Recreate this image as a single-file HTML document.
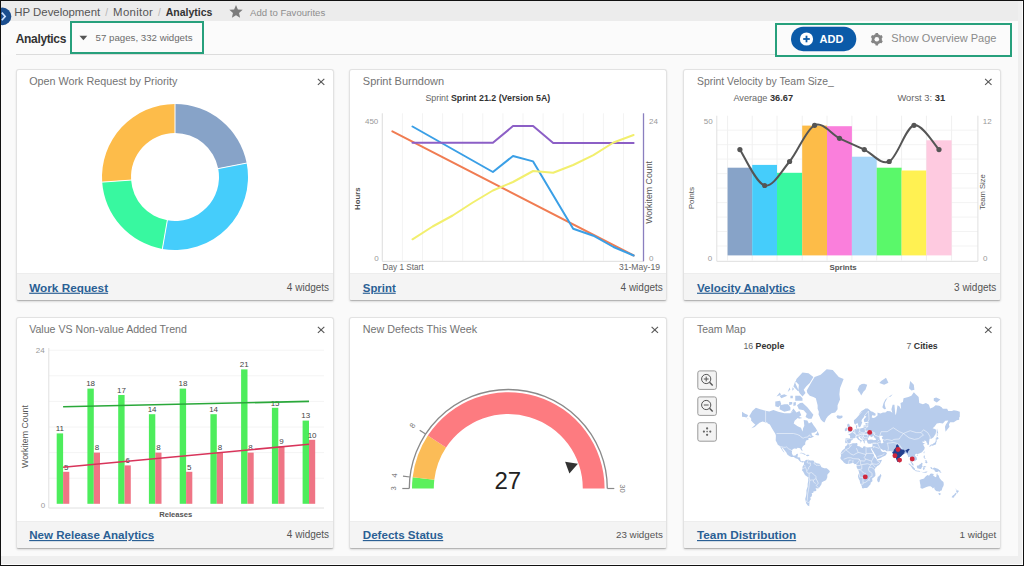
<!DOCTYPE html>
<html><head><meta charset="utf-8"><style>
*{box-sizing:border-box;margin:0;padding:0}
html,body{width:1024px;height:566px;overflow:hidden;background:#fafafa;font-family:"Liberation Sans", sans-serif}
.a{position:absolute}
.card{position:absolute;background:#fff;border-radius:3px;border:1px solid #e2e2e2;border-bottom-color:#b5b5b5;box-shadow:0 1px 2px rgba(0,0,0,.12);overflow:hidden}
.card .ft{position:absolute;left:0;right:0;bottom:0;height:27px;background:#f4f4f4;border-top:1px solid #ededed}
svg{position:absolute;left:0;top:0;font-family:"Liberation Sans", sans-serif}
</style></head><body>
<div class="a" style="left:0;top:0;width:1024px;height:21px;background:#ececec"></div>
<div class="a" style="left:0;top:21px;width:1024px;height:34px;background:#fbfbfb"></div>
<div class="a" style="left:16px;top:54px;width:760px;height:1px;background:#dcdcdc"></div>
<div class="a" style="left:1017.5px;top:0;width:5px;height:566px;background:#efefef"></div>
<div class="a" style="left:1022.2px;top:0;width:0.8px;height:566px;background:#fbfbfb"></div>
<div class="a" style="left:0;top:555.5px;width:1018px;height:8px;background:#efefef"></div>
<div class="a" style="left:0;top:563.5px;width:1024px;height:1.2px;background:#fdfdfd"></div>
<div class="card" style="left:16px;top:68.5px;width:317.8px;height:232.7px"><div class="ft"></div></div><div class="card" style="left:349.3px;top:68.5px;width:318.2px;height:232.7px"><div class="ft"></div></div><div class="card" style="left:683.1px;top:68.5px;width:317.9px;height:232.7px"><div class="ft"></div></div><div class="card" style="left:16px;top:316.5px;width:317.8px;height:232px"><div class="ft"></div></div><div class="card" style="left:349.3px;top:316.5px;width:318.2px;height:232px"><div class="ft"></div></div><div class="card" style="left:683.1px;top:316.5px;width:317.9px;height:232px"><div class="ft"></div></div>
<div class="a" style="left:70px;top:21px;width:134px;height:33px;border:2px solid #27a07c"></div>
<div class="a" style="left:775px;top:23px;width:237px;height:33.5px;border:2px solid #27a07c"></div>
<svg width="1024" height="566" viewBox="0 0 1024 566">
<circle cx="2.5" cy="16.4" r="8.8" fill="#1b4e8e"/>
<path d="M1.8,12.6 L5.2,16.4 L1.8,20.2" fill="none" stroke="#cfe3ff" stroke-width="1.6"/>
<text x="14.3" y="16.1" font-size="11.4" fill="#555" font-weight="400" text-anchor="start" >HP Development</text>
<text x="105.2" y="16.1" font-size="10" fill="#b5b5b5" font-weight="400" text-anchor="start" >/</text>
<text x="113.1" y="16.1" font-size="11.4" fill="#555" font-weight="400" text-anchor="start" letter-spacing="0.3">Monitor</text>
<text x="158.0" y="16.1" font-size="10" fill="#b5b5b5" font-weight="400" text-anchor="start" >/</text>
<text x="165.7" y="16.1" font-size="10.5" fill="#333" font-weight="700" text-anchor="start" >Analytics</text>
<path d="M236.00,5.00 L237.88,9.41 L242.66,9.84 L239.04,12.99 L240.11,17.66 L236.00,15.20 L231.89,17.66 L232.96,12.99 L229.34,9.84 L234.12,9.41Z" fill="#7c7c7c" stroke="none" stroke-width="1" stroke="#7c7c7c" stroke-width="0.6" stroke-linejoin="round"/>
<text x="250.0" y="15.6" font-size="9.6" fill="#8e8e8e" font-weight="400" text-anchor="start" >Add to Favourites</text>
<text x="15.8" y="42.8" font-size="12" fill="#333" font-weight="700" text-anchor="start" letter-spacing="-0.35">Analytics</text>
<path d="M79.5,35.8 L87.3,35.8 L83.4,40.2 Z" fill="#555" stroke="none" stroke-width="1" />
<text x="95.6" y="40.8" font-size="9.7" fill="#6c6c6c" font-weight="400" text-anchor="start" >57 pages, 332 widgets</text>
<rect x="791" y="26.7" width="65.3" height="24.5" rx="12.25" fill="#0b5aa8"/>
<circle cx="806.5" cy="39" r="6.6" fill="#fff"/>
<line x1="803.2" y1="39.0" x2="809.8" y2="39.0" stroke="#0b5aa8" stroke-width="1.8" />
<line x1="806.5" y1="35.7" x2="806.5" y2="42.3" stroke="#0b5aa8" stroke-width="1.8" />
<text x="819.5" y="42.8" font-size="11" fill="#fff" font-weight="700" text-anchor="start" >ADD</text>
<path d="M874.25,34.78 L875.31,34.32 L875.60,33.02 L878.00,33.02 L878.29,34.32 L879.35,34.78 L880.28,35.47 L881.55,35.07 L882.76,37.15 L881.77,38.05 L881.90,39.20 L881.77,40.35 L882.76,41.25 L881.55,43.33 L880.28,42.93 L879.35,43.62 L878.29,44.08 L878.00,45.38 L875.60,45.38 L875.31,44.08 L874.25,43.62 L873.32,42.93 L872.05,43.33 L870.84,41.25 L871.83,40.35 L871.70,39.20 L871.83,38.05 L870.84,37.15 L872.05,35.07 L873.32,35.47Z" fill="#858585" stroke="none" stroke-width="1" stroke="#858585" stroke-width="0.6" stroke-linejoin="round"/>
<circle cx="876.8" cy="39.2" r="2.3" fill="#fbfbfb"/>
<text x="891.3" y="41.8" font-size="11" fill="#8a8a8a" font-weight="400" text-anchor="start" >Show Overview Page</text>
<text x="29.2" y="85.0" font-size="10.78" fill="#737373" font-weight="400" text-anchor="start" >Open Work Request by Priority</text>
<line x1="317.9" y1="78.8" x2="324.3" y2="84.8" stroke="#555" stroke-width="1.1" />
<line x1="317.9" y1="84.8" x2="324.3" y2="78.8" stroke="#555" stroke-width="1.1" />
<text x="29.2" y="291.7" font-size="11.77" fill="#2a5f94" font-weight="700" text-anchor="start" text-decoration="underline">Work Request</text>
<text x="329.1" y="290.8" font-size="10" fill="#555" font-weight="400" text-anchor="end" >4 widgets</text>
<text x="362.8" y="85.0" font-size="11.0" fill="#737373" font-weight="400" text-anchor="start" >Sprint Burndown</text>
<text x="362.8" y="291.7" font-size="11.4" fill="#2a5f94" font-weight="700" text-anchor="start" text-decoration="underline">Sprint</text>
<text x="662.8" y="290.8" font-size="10" fill="#555" font-weight="400" text-anchor="end" >4 widgets</text>
<text x="697.0" y="85.0" font-size="10.4" fill="#737373" font-weight="400" text-anchor="start" >Sprint Velocity by Team Size_</text>
<line x1="985.1" y1="78.8" x2="991.5" y2="84.8" stroke="#555" stroke-width="1.1" />
<line x1="985.1" y1="84.8" x2="991.5" y2="78.8" stroke="#555" stroke-width="1.1" />
<text x="697.0" y="291.7" font-size="11.6" fill="#2a5f94" font-weight="700" text-anchor="start" text-decoration="underline">Velocity Analytics</text>
<text x="996.3" y="290.8" font-size="10" fill="#555" font-weight="400" text-anchor="end" >3 widgets</text>
<text x="29.2" y="333.0" font-size="10.6" fill="#737373" font-weight="400" text-anchor="start" >Value VS Non-value Added Trend</text>
<line x1="317.9" y1="326.8" x2="324.3" y2="332.8" stroke="#555" stroke-width="1.1" />
<line x1="317.9" y1="332.8" x2="324.3" y2="326.8" stroke="#555" stroke-width="1.1" />
<text x="29.2" y="539.0" font-size="11.57" fill="#2a5f94" font-weight="700" text-anchor="start" text-decoration="underline">New Release Analytics</text>
<text x="329.1" y="538.1" font-size="10" fill="#555" font-weight="400" text-anchor="end" >4 widgets</text>
<text x="362.8" y="333.0" font-size="10.75" fill="#737373" font-weight="400" text-anchor="start" >New Defects This Week</text>
<line x1="651.6" y1="326.8" x2="658.0" y2="332.8" stroke="#555" stroke-width="1.1" />
<line x1="651.6" y1="332.8" x2="658.0" y2="326.8" stroke="#555" stroke-width="1.1" />
<text x="362.8" y="539.0" font-size="11.58" fill="#2a5f94" font-weight="700" text-anchor="start" text-decoration="underline">Defects Status</text>
<text x="662.8" y="538.1" font-size="9.8" fill="#555" font-weight="400" text-anchor="end" >23 widgets</text>
<text x="697.0" y="333.0" font-size="10.45" fill="#737373" font-weight="400" text-anchor="start" >Team Map</text>
<line x1="985.1" y1="326.8" x2="991.5" y2="332.8" stroke="#555" stroke-width="1.1" />
<line x1="985.1" y1="332.8" x2="991.5" y2="326.8" stroke="#555" stroke-width="1.1" />
<text x="697.0" y="539.0" font-size="11.77" fill="#2a5f94" font-weight="700" text-anchor="start" text-decoration="underline">Team Distribution</text>
<text x="996.3" y="538.1" font-size="9.9" fill="#555" font-weight="400" text-anchor="end" >1 widget</text>
<path d="M175.00,104.00 A73,73 0 0 1 246.66,163.07 L218.19,168.60 A44,44 0 0 0 175.00,133.00 Z" fill="#87a3c8" stroke="none" stroke-width="1" />
<path d="M246.66,163.07 A73,73 0 0 1 162.32,248.89 L167.36,220.33 A44,44 0 0 0 218.19,168.60 Z" fill="#45cdfb" stroke="none" stroke-width="1" />
<path d="M162.32,248.89 A73,73 0 0 1 102.18,182.09 L131.11,180.07 A44,44 0 0 0 167.36,220.33 Z" fill="#38f8a0" stroke="none" stroke-width="1" />
<path d="M102.18,182.09 A73,73 0 0 1 175.00,104.00 L175.00,133.00 A44,44 0 0 0 131.11,180.07 Z" fill="#fdbc4a" stroke="none" stroke-width="1" />
<line x1="175.0" y1="134.0" x2="175.0" y2="103.0" stroke="#fff" stroke-width="1" />
<line x1="217.2" y1="168.8" x2="247.6" y2="162.9" stroke="#fff" stroke-width="1" />
<line x1="167.5" y1="219.3" x2="162.2" y2="249.9" stroke="#fff" stroke-width="1" />
<line x1="132.1" y1="180.0" x2="101.2" y2="182.2" stroke="#fff" stroke-width="1" />
<line x1="382.3" y1="113.3" x2="382.3" y2="260.7" stroke="#f3f3f3" stroke-width="1" />
<line x1="402.4" y1="113.3" x2="402.4" y2="260.7" stroke="#f3f3f3" stroke-width="1" />
<line x1="422.5" y1="113.3" x2="422.5" y2="260.7" stroke="#f3f3f3" stroke-width="1" />
<line x1="442.6" y1="113.3" x2="442.6" y2="260.7" stroke="#f3f3f3" stroke-width="1" />
<line x1="462.7" y1="113.3" x2="462.7" y2="260.7" stroke="#f3f3f3" stroke-width="1" />
<line x1="482.8" y1="113.3" x2="482.8" y2="260.7" stroke="#f3f3f3" stroke-width="1" />
<line x1="502.9" y1="113.3" x2="502.9" y2="260.7" stroke="#f3f3f3" stroke-width="1" />
<line x1="523.0" y1="113.3" x2="523.0" y2="260.7" stroke="#f3f3f3" stroke-width="1" />
<line x1="543.1" y1="113.3" x2="543.1" y2="260.7" stroke="#f3f3f3" stroke-width="1" />
<line x1="563.2" y1="113.3" x2="563.2" y2="260.7" stroke="#f3f3f3" stroke-width="1" />
<line x1="583.3" y1="113.3" x2="583.3" y2="260.7" stroke="#f3f3f3" stroke-width="1" />
<line x1="603.4" y1="113.3" x2="603.4" y2="260.7" stroke="#f3f3f3" stroke-width="1" />
<line x1="623.5" y1="113.3" x2="623.5" y2="260.7" stroke="#f3f3f3" stroke-width="1" />
<line x1="643.6" y1="113.3" x2="643.6" y2="260.7" stroke="#f3f3f3" stroke-width="1" />
<line x1="382.3" y1="113.3" x2="382.3" y2="261.3" stroke="#e0e0e0" stroke-width="1" />
<line x1="382.3" y1="261.3" x2="643.6" y2="261.3" stroke="#dedede" stroke-width="1" />
<line x1="643.5" y1="113.3" x2="643.5" y2="261.3" stroke="#8a7fbf" stroke-width="1.3" />
<text x="378.3" y="124.0" font-size="8" fill="#999" font-weight="400" text-anchor="end" >450</text>
<text x="378.8" y="261.3" font-size="8" fill="#999" font-weight="400" text-anchor="end" >0</text>
<text x="649.0" y="124.0" font-size="8" fill="#999" font-weight="400" text-anchor="start" >24</text>
<text x="649.0" y="261.3" font-size="8" fill="#999" font-weight="400" text-anchor="start" >0</text>
<text x="382.6" y="269.6" font-size="8.2" fill="#666" font-weight="400" text-anchor="start" >Day 1 Start</text>
<text x="660.0" y="269.6" font-size="8.6" fill="#666" font-weight="400" text-anchor="end" >31-May-19</text>
<text transform="translate(360.3,198.7) rotate(-90)" font-size="7.8" font-weight="700" fill="#555" text-anchor="middle">Hours</text>
<text transform="translate(651.8,192.4) rotate(-90)" font-size="8.8" fill="#555" text-anchor="middle">Workitem Count</text>
<text x="425.4" y="100.7" font-size="8.85" fill="#666" font-weight="400" text-anchor="start" >Sprint <tspan font-weight="700" fill="#333">Sprint 21.2 (Version 5A)</tspan></text>
<path d="M392.4,131.3 L633.6,255.5" fill="none" stroke="#f07c52" stroke-width="2" stroke-linejoin="round" stroke-linecap="round"/>
<path d="M412.5,126.5 L492.9,172.0 L513.0,156.0 L533.1,161.4 L573.2,228.7 L593.4,235.7 L613.5,247.0 L633.6,255.5" fill="none" stroke="#3a9fe6" stroke-width="2" stroke-linejoin="round" stroke-linecap="round"/>
<path d="M412.5,142.8 L492.9,142.8 L513.0,126.1 L533.1,126.1 L553.2,143.0 L633.6,143.0" fill="none" stroke="#8c5fc6" stroke-width="2" stroke-linejoin="round" stroke-linecap="round"/>
<path d="M412.5,239.3 L432.6,226.5 L452.7,215.5 L472.8,202.5 L492.9,190.5 L513.0,182.0 L533.1,171.0 L553.2,172.7 L573.2,165.0 L593.4,155.2 L613.5,142.5 L633.6,135.0" fill="none" stroke="#f2ef6e" stroke-width="2" stroke-linejoin="round" stroke-linecap="round"/>
<line x1="716.8" y1="246.0" x2="977.9" y2="246.0" stroke="#f3f3f3" stroke-width="1" />
<line x1="716.8" y1="231.5" x2="977.9" y2="231.5" stroke="#f3f3f3" stroke-width="1" />
<line x1="716.8" y1="217.1" x2="977.9" y2="217.1" stroke="#f3f3f3" stroke-width="1" />
<line x1="716.8" y1="202.6" x2="977.9" y2="202.6" stroke="#f3f3f3" stroke-width="1" />
<line x1="716.8" y1="188.1" x2="977.9" y2="188.1" stroke="#f3f3f3" stroke-width="1" />
<line x1="716.8" y1="173.6" x2="977.9" y2="173.6" stroke="#f3f3f3" stroke-width="1" />
<line x1="716.8" y1="159.1" x2="977.9" y2="159.1" stroke="#f3f3f3" stroke-width="1" />
<line x1="716.8" y1="144.7" x2="977.9" y2="144.7" stroke="#f3f3f3" stroke-width="1" />
<line x1="716.8" y1="130.2" x2="977.9" y2="130.2" stroke="#f3f3f3" stroke-width="1" />
<line x1="727.6" y1="115.7" x2="727.6" y2="260.5" stroke="#f0f0f0" stroke-width="1" />
<line x1="752.2" y1="115.7" x2="752.2" y2="260.5" stroke="#f0f0f0" stroke-width="1" />
<line x1="777.0" y1="115.7" x2="777.0" y2="260.5" stroke="#f0f0f0" stroke-width="1" />
<line x1="802.2" y1="115.7" x2="802.2" y2="260.5" stroke="#f0f0f0" stroke-width="1" />
<line x1="827.0" y1="115.7" x2="827.0" y2="260.5" stroke="#f0f0f0" stroke-width="1" />
<line x1="851.9" y1="115.7" x2="851.9" y2="260.5" stroke="#f0f0f0" stroke-width="1" />
<line x1="876.7" y1="115.7" x2="876.7" y2="260.5" stroke="#f0f0f0" stroke-width="1" />
<line x1="901.6" y1="115.7" x2="901.6" y2="260.5" stroke="#f0f0f0" stroke-width="1" />
<line x1="926.4" y1="115.7" x2="926.4" y2="260.5" stroke="#f0f0f0" stroke-width="1" />
<line x1="951.6" y1="115.7" x2="951.6" y2="260.5" stroke="#f0f0f0" stroke-width="1" />
<line x1="716.8" y1="115.7" x2="716.8" y2="261.3" stroke="#e0e0e0" stroke-width="1" />
<line x1="716.8" y1="261.3" x2="977.9" y2="261.3" stroke="#dedede" stroke-width="1" />
<line x1="977.9" y1="115.7" x2="977.9" y2="261.3" stroke="#e0e0e0" stroke-width="1" />
<rect x="727.6" y="167.7" width="24.6" height="87.7" fill="#87a3c8" />
<rect x="752.2" y="164.9" width="24.8" height="90.5" fill="#45cdfb" />
<rect x="777.0" y="172.8" width="25.2" height="82.6" fill="#38f8a0" />
<rect x="802.2" y="125.6" width="24.8" height="129.8" fill="#fdbc48" />
<rect x="827.0" y="126.2" width="24.9" height="129.2" fill="#fa7fdc" />
<rect x="851.9" y="156.7" width="24.8" height="98.7" fill="#a8d6f8" />
<rect x="876.7" y="167.7" width="24.9" height="87.7" fill="#5af86a" />
<rect x="901.6" y="170.5" width="24.8" height="84.9" fill="#fff152" />
<rect x="926.4" y="140.3" width="25.2" height="115.1" fill="#fecae0" />
<path d="M739.90,149.60 C744.02,155.58 756.32,183.52 764.60,185.50 C772.88,187.48 781.27,171.53 789.60,161.50 C797.93,151.47 806.29,129.17 814.60,125.30 C822.91,121.43 831.17,134.25 839.45,138.30 C847.73,142.35 856.02,145.73 864.30,149.60 C872.58,153.47 880.87,165.55 889.15,161.50 C897.43,157.45 905.69,127.28 914.00,125.30 C922.31,123.32 934.83,145.55 939.00,149.60" fill="none" stroke="#555" stroke-width="2" />
<circle cx="739.9" cy="149.6" r="2.6" fill="#555"/>
<circle cx="764.6" cy="185.5" r="2.6" fill="#555"/>
<circle cx="789.6" cy="161.5" r="2.6" fill="#555"/>
<circle cx="814.6" cy="125.3" r="2.6" fill="#555"/>
<circle cx="839.5" cy="138.3" r="2.6" fill="#555"/>
<circle cx="864.3" cy="149.6" r="2.6" fill="#555"/>
<circle cx="889.2" cy="161.5" r="2.6" fill="#555"/>
<circle cx="914.0" cy="125.3" r="2.6" fill="#555"/>
<circle cx="939.0" cy="149.6" r="2.6" fill="#555"/>
<text x="712.6" y="124.0" font-size="8" fill="#999" font-weight="400" text-anchor="end" >50</text>
<text x="712.2" y="261.0" font-size="8" fill="#999" font-weight="400" text-anchor="end" >0</text>
<text x="982.7" y="124.0" font-size="8" fill="#999" font-weight="400" text-anchor="start" >12</text>
<text x="983.0" y="261.0" font-size="8" fill="#999" font-weight="400" text-anchor="start" >0</text>
<text transform="translate(694.3,198.2) rotate(-90)" font-size="8" fill="#555" text-anchor="middle">Points</text>
<text transform="translate(984.8,192) rotate(-90)" font-size="7.6" fill="#555" text-anchor="middle">Team Size</text>
<text x="843.1" y="269.7" font-size="7.9" fill="#555" font-weight="700" text-anchor="middle" >Sprints</text>
<text x="733.4" y="100.9" font-size="9.2" fill="#666" font-weight="400" text-anchor="start" >Average <tspan font-weight="700" fill="#333">36.67</tspan></text>
<text x="897.4" y="100.9" font-size="9.4" fill="#666" font-weight="400" text-anchor="start" >Worst 3: <tspan font-weight="700" fill="#333">31</tspan></text>
<line x1="48.8" y1="478.2" x2="324.0" y2="478.2" stroke="#f4f4f4" stroke-width="1" />
<line x1="48.8" y1="452.6" x2="324.0" y2="452.6" stroke="#f4f4f4" stroke-width="1" />
<line x1="48.8" y1="427.0" x2="324.0" y2="427.0" stroke="#f4f4f4" stroke-width="1" />
<line x1="48.8" y1="401.4" x2="324.0" y2="401.4" stroke="#f4f4f4" stroke-width="1" />
<line x1="48.8" y1="375.8" x2="324.0" y2="375.8" stroke="#f4f4f4" stroke-width="1" />
<line x1="48.8" y1="350.2" x2="324.0" y2="350.2" stroke="#f4f4f4" stroke-width="1" />
<line x1="48.8" y1="348.0" x2="48.8" y2="508.0" stroke="#e0e0e0" stroke-width="1" />
<line x1="48.8" y1="508.0" x2="324.0" y2="508.0" stroke="#e0e0e0" stroke-width="1" />
<rect x="56.7" y="433.4" width="6.4" height="70.4" fill="#4ded5c" />
<rect x="63.1" y="471.8" width="6.2" height="32.0" fill="#ef7585" />
<text x="59.9" y="431.2" font-size="8" fill="#444" font-weight="400" text-anchor="middle" >11</text>
<text x="66.2" y="469.6" font-size="8" fill="#444" font-weight="400" text-anchor="middle" >5</text>
<rect x="87.4" y="388.6" width="6.4" height="115.2" fill="#4ded5c" />
<rect x="93.8" y="452.6" width="6.2" height="51.2" fill="#ef7585" />
<text x="90.6" y="386.4" font-size="8" fill="#444" font-weight="400" text-anchor="middle" >18</text>
<text x="96.9" y="450.4" font-size="8" fill="#444" font-weight="400" text-anchor="middle" >8</text>
<rect x="118.2" y="395.0" width="6.4" height="108.8" fill="#4ded5c" />
<rect x="124.6" y="465.4" width="6.2" height="38.4" fill="#ef7585" />
<text x="121.4" y="392.8" font-size="8" fill="#444" font-weight="400" text-anchor="middle" >17</text>
<text x="127.7" y="463.2" font-size="8" fill="#444" font-weight="400" text-anchor="middle" >6</text>
<rect x="148.9" y="414.2" width="6.4" height="89.6" fill="#4ded5c" />
<rect x="155.3" y="452.6" width="6.2" height="51.2" fill="#ef7585" />
<text x="152.1" y="412.0" font-size="8" fill="#444" font-weight="400" text-anchor="middle" >14</text>
<text x="158.4" y="450.4" font-size="8" fill="#444" font-weight="400" text-anchor="middle" >8</text>
<rect x="179.7" y="388.6" width="6.4" height="115.2" fill="#4ded5c" />
<rect x="186.1" y="471.8" width="6.2" height="32.0" fill="#ef7585" />
<text x="182.9" y="386.4" font-size="8" fill="#444" font-weight="400" text-anchor="middle" >18</text>
<text x="189.2" y="469.6" font-size="8" fill="#444" font-weight="400" text-anchor="middle" >5</text>
<rect x="210.4" y="414.2" width="6.4" height="89.6" fill="#4ded5c" />
<rect x="216.8" y="452.6" width="6.2" height="51.2" fill="#ef7585" />
<text x="213.6" y="412.0" font-size="8" fill="#444" font-weight="400" text-anchor="middle" >14</text>
<text x="219.9" y="450.4" font-size="8" fill="#444" font-weight="400" text-anchor="middle" >8</text>
<rect x="241.1" y="369.4" width="6.4" height="134.4" fill="#4ded5c" />
<rect x="247.5" y="452.6" width="6.2" height="51.2" fill="#ef7585" />
<text x="244.3" y="367.2" font-size="8" fill="#444" font-weight="400" text-anchor="middle" >21</text>
<text x="250.6" y="450.4" font-size="8" fill="#444" font-weight="400" text-anchor="middle" >8</text>
<rect x="271.9" y="407.8" width="6.4" height="96.0" fill="#4ded5c" />
<rect x="278.3" y="446.2" width="6.2" height="57.6" fill="#ef7585" />
<text x="275.1" y="405.6" font-size="8" fill="#444" font-weight="400" text-anchor="middle" >15</text>
<text x="281.4" y="444.0" font-size="8" fill="#444" font-weight="400" text-anchor="middle" >9</text>
<rect x="302.6" y="420.6" width="6.4" height="83.2" fill="#4ded5c" />
<rect x="309.0" y="439.8" width="6.2" height="64.0" fill="#ef7585" />
<text x="305.8" y="418.4" font-size="8" fill="#444" font-weight="400" text-anchor="middle" >13</text>
<text x="312.1" y="437.6" font-size="8" fill="#444" font-weight="400" text-anchor="middle" >10</text>
<line x1="63.1" y1="406.8" x2="309.0" y2="401.4" stroke="#2aa83a" stroke-width="1.6" />
<line x1="63.1" y1="467.2" x2="309.0" y2="444.3" stroke="#d8345a" stroke-width="1.6" />
<text x="44.6" y="353.3" font-size="8" fill="#999" font-weight="400" text-anchor="end" >24</text>
<text x="45.3" y="508.2" font-size="8" fill="#999" font-weight="400" text-anchor="end" >0</text>
<text transform="translate(27.6,436.5) rotate(-90)" font-size="8.8" fill="#555" text-anchor="middle">Workitem Count</text>
<text x="175.7" y="516.7" font-size="7.6" fill="#555" font-weight="700" text-anchor="middle" >Releases</text>
<path d="M412.00,488.50 A96.3,96.3 0 0 1 412.65,477.32 L434.30,479.85 A74.5,74.5 0 0 0 433.80,488.50 Z" fill="#5cf05c" stroke="none" stroke-width="1" />
<path d="M412.65,477.32 A96.3,96.3 0 0 1 427.84,435.58 L446.06,447.56 A74.5,74.5 0 0 0 434.30,479.85 Z" fill="#fbbc57" stroke="none" stroke-width="1" />
<path d="M427.84,435.58 A96.3,96.3 0 0 1 604.60,488.50 L582.80,488.50 A74.5,74.5 0 0 0 446.06,447.56 Z" fill="#fd7b80" stroke="none" stroke-width="1" />
<path d="M409.3,488.5 A99,99 0 0 1 607.3,488.5" fill="none" stroke="#8a8a8a" stroke-width="1.3" />
<line x1="409.3" y1="488.5" x2="402.3" y2="488.5" stroke="#8a8a8a" stroke-width="1.2" />
<text transform="translate(394.3,488.5) rotate(-90.0)" font-size="7.6" fill="#777" text-anchor="middle" dominant-baseline="middle">3</text>
<line x1="410.0" y1="477.0" x2="403.0" y2="476.2" stroke="#8a8a8a" stroke-width="1.2" />
<text transform="translate(395.1,475.3) rotate(-83.3)" font-size="7.6" fill="#777" text-anchor="middle" dominant-baseline="middle">4</text>
<line x1="425.6" y1="434.1" x2="419.7" y2="430.3" stroke="#8a8a8a" stroke-width="1.2" />
<text transform="translate(413.1,425.9) rotate(-56.7)" font-size="7.6" fill="#777" text-anchor="middle" dominant-baseline="middle">8</text>
<line x1="607.3" y1="488.5" x2="614.3" y2="488.5" stroke="#8a8a8a" stroke-width="1.2" />
<text transform="translate(622.3,488.5) rotate(90.0)" font-size="7.6" fill="#777" text-anchor="middle" dominant-baseline="middle">30</text>
<path d="M565.1,461.7 L577.9,463.8 L569.4,473.4 Z" fill="#333" stroke="none" stroke-width="1" />
<text x="507.8" y="489.3" font-size="24" fill="#222" font-weight="400" text-anchor="middle" >27</text>
<path d="M749.26,416.24 L752.28,411.07 L755.91,407.78 L760.15,409.37 L765.60,410.78 L769.23,411.51 L773.46,409.95 L778.30,411.79 L784.35,413.18 L790.40,413.18 L793.42,408.38 L796.45,412.49 L799.48,411.07 L801.29,415.14 L798.26,417.54 L794.63,420.77 L793.73,423.41 L797.66,426.17 L800.99,427.74 L802.50,431.38 L803.11,428.25 L804.31,425.64 L803.71,419.95 L807.34,420.47 L808.85,423.41 L811.57,421.96 L813.39,425.09 L815.81,428.25 L817.20,430.72 L814.60,432.41 L810.67,433.05 L811.88,433.59 L811.70,435.26 L814.00,436.54 L810.97,437.94 L808.43,438.02 L808.55,439.63 L806.13,440.57 L805.22,442.84 L805.22,444.52 L803.11,445.88 L801.71,448.16 L802.50,450.50 L802.20,451.35 L800.99,449.84 L800.08,448.16 L797.66,447.82 L796.75,448.70 L794.03,448.43 L792.22,449.64 L791.79,453.09 L792.70,455.17 L793.73,455.79 L795.85,455.30 L796.45,453.92 L797.96,453.73 L797.48,457.15 L800.08,457.46 L800.38,460.18 L801.59,461.50 L802.80,461.02 L804.01,461.62 L803.59,462.27 L802.50,462.39 L800.38,461.67 L799.05,460.48 L797.96,458.98 L795.54,458.37 L793.73,457.03 L791.31,456.97 L789.19,455.98 L787.07,454.36 L786.53,452.64 L784.77,450.50 L783.02,448.30 L781.45,446.99 L782.41,449.31 L784.05,451.81 L784.47,452.77 L783.14,451.61 L781.93,449.84 L780.30,446.93 L779.21,445.38 L777.94,445.03 L776.79,442.62 L775.70,440.57 L775.88,435.86 L775.46,434.03 L773.76,431.19 L772.07,428.46 L769.83,424.54 L766.50,422.72 L762.57,421.47 L759.54,422.84 L757.43,424.54 L754.70,426.91 L751.38,428.25 L755.31,424.76 L752.89,422.49 L750.89,420.26 L751.38,418.99 L750.17,417.31Z M806.74,390.49 L810.97,383.01 L814.60,376.91 L820.65,374.73 L826.70,369.36 L832.75,369.89 L838.80,376.91 L843.64,379.06 L840.01,388.26 L839.40,394.31 L840.01,399.55 L837.59,405.28 L837.59,409.37 L835.17,412.49 L831.54,413.18 L827.91,416.36 L826.10,418.66 L824.88,421.77 L824.28,422.49 L822.47,421.28 L820.65,419.21 L819.74,416.96 L818.53,414.50 L818.84,411.79 L817.62,408.78 L817.62,405.28 L815.81,398.30 L813.39,397.02 L809.76,395.68 L807.34,392.88Z M804.01,461.62 L804.92,461.08 L805.52,460.18 L807.34,459.46 L807.64,460.18 L808.55,459.58 L809.76,460.48 L812.18,460.48 L813.39,460.48 L814.30,461.67 L816.41,463.16 L819.44,463.75 L820.04,464.34 L820.65,465.70 L821.56,467.29 L824.28,468.17 L826.70,468.35 L828.51,469.65 L829.73,470.95 L829.73,472.02 L828.51,473.22 L827.30,474.73 L827.30,477.17 L826.70,478.73 L826.10,479.99 L824.88,480.63 L823.67,481.14 L821.86,482.24 L821.44,484.23 L820.35,485.92 L819.14,487.66 L818.23,488.59 L816.41,488.37 L815.51,488.16 L816.41,489.82 L816.11,490.93 L813.39,491.53 L813.39,492.83 L811.57,493.22 L812.18,494.41 L811.57,496.45 L810.06,497.71 L810.97,499.01 L809.46,501.27 L809.46,503.16 L809.15,505.66 L810.37,506.17 L807.94,505.66 L806.13,503.16 L805.22,499.01 L806.13,495.62 L806.43,493.22 L806.43,490.19 L807.64,486.61 L807.64,483.89 L808.25,480.63 L808.25,477.79 L807.34,476.86 L804.92,475.03 L804.31,473.82 L803.11,471.43 L801.89,470.24 L802.50,468.76 L802.50,466.70 L803.11,465.82 L804.01,464.34 L804.01,462.86Z M845.45,443.21 L845.15,441.72 L845.58,439.39 L845.45,438.43 L848.48,438.19 L849.99,438.19 L850.17,436.11 L849.39,435.00 L848.06,434.39 L849.99,433.68 L851.81,432.59 L852.72,431.48 L853.62,430.24 L853.92,429.45 L856.04,429.06 L856.04,427.23 L855.86,425.64 L857.25,424.87 L857.25,426.49 L856.95,427.95 L857.55,428.76 L859.07,428.46 L859.67,428.86 L862.09,428.05 L863.61,427.74 L863.61,426.17 L863.91,425.09 L865.42,425.64 L865.60,424.21 L865.12,423.18 L867.84,422.84 L869.05,422.25 L867.84,421.77 L866.02,422.06 L864.51,422.25 L863.91,420.98 L863.91,419.21 L866.02,416.96 L866.33,416.36 L864.39,416.00 L863.61,417.54 L862.09,419.21 L861.37,421.28 L862.27,422.25 L860.88,425.64 L860.58,426.49 L859.55,427.23 L858.64,427.33 L858.46,426.17 L858.04,424.54 L857.25,422.84 L855.74,424.43 L854.53,423.98 L853.92,422.25 L853.92,420.26 L855.74,418.66 L856.95,417.54 L858.46,415.76 L859.37,413.85 L860.28,412.49 L861.79,410.63 L863.00,410.33 L865.42,408.38 L867.84,408.38 L869.65,409.95 L870.87,411.36 L872.68,411.79 L875.70,413.85 L875.28,415.76 L872.07,415.14 L871.77,417.54 L873.28,418.11 L875.10,417.54 L877.52,415.51 L877.52,412.49 L878.73,412.91 L880.54,413.58 L882.96,412.49 L885.38,412.49 L887.20,411.07 L890.23,411.36 L892.34,412.63 L891.43,409.37 L892.64,404.64 L894.46,404.64 L894.76,408.38 L895.06,411.79 L895.37,415.14 L896.27,413.18 L897.49,405.28 L899.30,406.34 L901.12,409.37 L900.51,403.08 L902.93,401.94 L903.53,398.30 L908.38,397.02 L911.40,395.68 L913.82,392.30 L916.24,394.86 L918.66,397.02 L919.26,403.08 L922.89,404.20 L925.92,403.08 L928.94,404.64 L930.15,408.38 L933.18,407.37 L935.60,405.28 L939.23,405.71 L941.65,407.37 L942.86,408.78 L947.10,408.78 L948.30,411.07 L951.93,410.92 L953.75,410.33 L956.77,410.78 L959.80,411.79 L959.80,416.72 L959.19,417.54 L959.19,419.74 L956.77,420.26 L953.75,422.25 L950.12,422.37 L948.91,424.54 L949.51,426.70 L947.10,429.75 L945.58,431.66 L945.28,429.75 L944.98,426.70 L945.88,424.54 L947.70,421.77 L948.30,420.47 L945.28,420.77 L942.86,423.41 L939.84,423.07 L936.81,423.41 L934.39,426.70 L932.57,428.25 L935.60,429.26 L936.20,430.72 L935.60,433.94 L933.48,437.37 L931.37,438.75 L929.55,438.99 L929.25,440.95 L928.94,443.21 L929.13,444.52 L927.43,445.10 L927.31,443.21 L926.52,442.62 L926.22,441.18 L924.41,440.26 L924.41,441.72 L922.29,441.56 L922.89,443.06 L925.01,442.91 L923.80,443.94 L923.20,444.67 L924.11,446.44 L924.71,447.61 L924.41,449.17 L923.20,450.83 L921.99,452.32 L919.87,453.22 L917.75,453.92 L916.24,453.66 L915.33,454.36 L914.91,455.30 L915.63,456.54 L916.72,457.46 L917.03,459.58 L915.63,460.48 L914.42,461.56 L914.30,460.66 L913.21,460.18 L912.00,459.10 L911.52,458.67 L910.92,460.48 L911.58,461.67 L912.31,462.69 L913.46,464.05 L913.52,465.82 L912.00,464.93 L911.58,463.46 L910.49,461.97 L910.49,458.98 L909.95,456.84 L908.07,457.15 L907.89,455.61 L906.74,454.04 L906.44,453.09 L905.35,453.54 L904.14,453.60 L903.53,453.73 L903.41,454.36 L902.32,454.99 L901.72,455.79 L900.69,456.78 L899.90,457.33 L899.42,458.67 L899.18,460.18 L898.88,460.60 L898.21,461.44 L897.79,461.91 L897.18,461.38 L896.58,459.88 L895.97,458.37 L895.37,456.84 L894.94,455.30 L894.94,454.04 L893.55,454.17 L892.64,453.22 L892.34,452.45 L891.43,451.68 L891.13,451.22 L889.62,451.29 L888.11,451.35 L886.47,451.16 L884.96,450.04 L883.57,450.44 L882.06,449.57 L880.24,448.16 L880.85,450.17 L882.06,451.81 L883.57,452.00 L884.96,451.81 L885.87,452.32 L887.08,453.09 L885.81,455.30 L884.48,456.04 L882.66,456.84 L880.54,458.07 L878.12,458.98 L877.22,459.16 L876.79,457.76 L875.70,455.30 L874.50,453.54 L873.89,452.13 L872.07,449.51 L871.77,448.50 L870.62,448.23 L870.44,447.27 L871.65,447.27 L872.38,445.74 L872.62,444.02 L872.80,443.43 L871.77,443.36 L870.56,443.87 L869.35,443.72 L867.96,443.43 L867.42,442.62 L866.81,440.87 L866.63,440.33 L865.42,440.41 L864.81,440.72 L864.69,441.33 L864.81,442.32 L864.51,443.58 L864.03,443.28 L863.73,442.62 L863.91,441.72 L862.70,440.72 L862.70,439.55 L862.09,438.99 L861.18,438.43 L860.28,437.78 L859.98,436.79 L859.13,436.54 L858.34,436.70 L858.46,437.62 L859.37,438.99 L860.58,439.79 L862.09,440.87 L861.18,441.72 L860.88,442.47 L860.34,442.47 L860.58,441.33 L860.28,440.95 L859.37,440.33 L858.46,439.79 L857.55,438.99 L856.95,437.78 L856.04,437.53 L855.13,438.11 L853.92,438.35 L852.72,438.43 L852.84,439.39 L852.41,439.94 L851.20,440.57 L850.72,441.33 L850.90,441.94 L850.48,442.77 L849.69,443.36 L848.18,443.43 L847.51,443.94 L847.09,443.36 L846.36,443.06Z M870.44,447.27 L869.05,447.13 L867.84,447.48 L866.02,446.93 L864.81,446.37 L863.00,446.79 L863.00,447.82 L862.39,447.96 L860.58,447.34 L859.98,446.44 L858.76,446.16 L857.86,445.95 L857.07,445.38 L857.55,444.45 L857.25,443.36 L856.83,442.99 L855.44,443.21 L852.72,443.36 L850.90,444.09 L849.69,444.59 L847.57,444.09 L847.09,445.03 L846.66,445.59 L845.15,446.44 L844.97,448.16 L843.94,449.37 L843.03,449.84 L842.13,450.83 L841.22,452.13 L840.62,453.73 L841.10,454.99 L840.92,456.54 L840.31,457.94 L840.74,458.98 L841.82,460.18 L842.73,461.08 L843.64,462.27 L844.85,463.16 L846.36,464.11 L848.48,463.63 L849.69,463.87 L851.50,463.16 L852.72,462.92 L853.92,463.28 L854.53,464.16 L855.44,464.05 L856.22,464.34 L856.83,465.23 L856.65,466.11 L856.53,466.99 L857.55,468.94 L858.16,469.65 L858.89,471.73 L859.07,473.22 L858.16,475.03 L858.04,476.86 L858.76,479.04 L859.67,480.50 L860.10,483.23 L860.88,484.29 L861.79,486.27 L862.03,488.02 L863.00,488.59 L864.51,488.02 L866.33,488.02 L867.24,487.66 L868.14,486.96 L869.35,485.58 L870.56,484.23 L870.74,482.57 L871.17,482.24 L872.38,481.27 L872.38,479.99 L871.95,478.73 L872.98,477.98 L874.50,476.86 L875.40,475.64 L875.40,473.22 L874.80,471.13 L874.50,469.65 L875.10,468.47 L876.01,467.58 L877.22,466.11 L878.73,465.23 L879.94,464.05 L880.85,462.27 L881.88,460.18 L881.94,459.64 L880.54,460.00 L877.82,460.48 L877.10,459.88 L876.61,459.16 L875.70,458.07 L874.80,457.46 L874.19,455.92 L873.47,454.04 L872.68,452.45 L872.07,451.48 L871.35,449.97 L870.62,448.23Z M880.73,473.82 L881.45,475.94 L880.85,476.86 L879.94,479.99 L879.33,481.92 L878.12,482.24 L877.34,480.63 L877.10,479.67 L877.82,476.86 L879.03,476.13 L879.94,475.03Z M919.57,479.99 L919.99,482.90 L920.48,485.24 L920.48,488.02 L922.29,488.73 L924.11,487.88 L925.92,487.31 L927.13,486.75 L928.94,486.34 L930.46,486.27 L931.97,487.17 L932.88,488.59 L934.27,487.31 L934.39,489.09 L935.60,490.56 L936.81,491.16 L938.02,491.16 L939.53,491.68 L940.44,490.78 L941.65,490.56 L942.44,487.66 L943.46,485.92 L943.77,484.23 L943.46,481.92 L942.25,480.95 L941.35,480.18 L939.53,478.10 L938.93,476.25 L938.81,475.52 L937.72,475.03 L937.11,473.04 L936.51,474.42 L936.51,476.25 L935.60,477.30 L934.09,476.25 L933.18,475.64 L933.78,473.94 L932.57,473.82 L931.06,473.52 L930.15,473.94 L929.25,475.58 L928.34,475.52 L927.43,475.03 L926.52,475.64 L925.62,476.56 L924.71,477.48 L924.11,478.41 L922.59,478.92 L921.38,479.17 L920.17,479.86Z M802.50,402.63 L807.34,407.37 L810.37,411.07 L813.39,414.76 L811.57,418.66 L808.55,418.66 L805.52,416.96 L806.74,413.85 L803.71,410.33 L798.87,409.37 L797.05,405.28 L800.08,403.08Z M802.50,396.49 L805.52,392.88 L803.71,389.86 L806.13,386.59 L809.76,383.01 L813.39,376.91 L808.55,373.35 L802.50,372.40 L796.45,379.06 L795.24,383.01 L797.66,388.26 L799.48,392.88Z M802.50,400.76 L795.24,400.76 L795.24,395.68 L800.08,395.68 L802.50,398.30Z M790.40,410.33 L784.35,411.79 L779.51,409.37 L780.12,405.28 L784.35,404.20 L787.98,404.20 L790.40,407.37Z M778.30,407.37 L775.27,406.34 L775.27,401.47 L780.12,400.76 L781.32,404.20Z M787.38,395.68 L781.32,398.30 L779.51,395.68 L784.35,394.31Z M792.22,404.20 L789.19,405.28 L789.19,401.94 L792.22,401.94Z M792.82,398.30 L790.40,398.30 L790.40,395.68 L792.82,395.68Z M798.26,391.40 L793.42,386.59 L795.24,381.09 L798.87,384.84Z M799.48,416.96 L802.50,418.11 L798.87,418.66 L797.66,417.54Z M776.49,396.49 L779.81,392.59 L781.02,394.86Z M787.68,392.00 L790.40,389.55 L789.49,387.60Z M792.22,390.79 L794.03,388.91 L792.52,387.27Z M792.82,411.79 L791.00,411.07 L791.31,412.49Z M795.85,405.28 L793.42,405.92 L793.42,402.40 L795.85,401.94Z M742.00,411.79 L745.02,413.85 L747.44,414.76 L748.05,415.76 L746.54,417.54 L744.42,416.96 L742.00,416.72Z M747.14,418.33 L748.78,418.99 L747.75,419.21Z M938.38,492.99 L940.62,493.14 L940.44,494.81 L939.71,495.29 L938.81,494.41Z M847.45,432.59 L849.08,432.13 L851.75,431.48 L851.93,430.04 L851.08,429.26 L850.72,428.25 L849.99,427.12 L849.69,425.64 L849.81,424.98 L848.78,423.87 L847.88,423.87 L847.09,425.09 L847.51,426.49 L847.88,427.74 L849.08,427.95 L848.90,428.76 L849.08,429.45 L848.06,429.94 L848.48,431.10 L847.69,431.00 L848.48,431.48Z M847.27,430.62 L847.15,428.96 L847.57,428.15 L846.48,427.44 L845.76,428.25 L844.85,428.76 L844.85,430.72 L845.15,431.19 L846.06,431.00Z M836.38,416.36 L837.59,415.26 L840.01,415.63 L842.13,415.51 L842.73,416.96 L841.82,417.88 L840.01,418.77 L838.80,418.66 L837.29,418.33Z M857.55,389.86 L859.37,385.55 L861.79,384.12 L864.21,383.76 L867.24,384.84 L865.42,389.86 L863.61,391.40 L861.18,395.41 L859.98,392.88 L858.76,391.40Z M882.36,407.37 L884.17,409.17 L885.99,408.98 L884.78,405.28 L884.78,403.08 L887.20,398.30 L890.23,395.68 L892.64,394.31 L890.83,396.49 L887.80,397.54 L885.38,399.55 L883.57,403.08 L882.96,405.28Z M908.98,388.26 L911.40,390.49 L914.42,389.86 L913.82,384.84 L910.19,381.09Z M933.78,400.76 L936.81,402.40 L940.44,399.55 L936.20,397.54 L933.78,398.30Z M879.33,383.01 L884.17,384.84 L888.41,382.64 L885.99,377.79 L881.15,381.09Z M899.18,462.57 L899.30,460.90 L900.21,461.97 L900.39,462.86 L899.60,463.16Z M930.03,447.27 L930.46,445.88 L931.37,445.38 L932.57,445.74 L933.66,445.17 L935.00,444.81 L936.08,444.16 L936.20,442.47 L936.81,441.18 L936.45,439.86 L935.60,440.57 L935.48,441.72 L934.69,442.84 L933.60,443.21 L932.76,444.23 L931.06,444.38 L930.15,445.17 L929.67,445.74 L929.43,446.44Z M935.60,439.39 L936.39,439.86 L937.41,439.39 L938.81,438.35 L938.02,437.53 L936.81,436.54 L936.57,436.95 L936.45,438.19 L935.60,438.43Z M936.81,436.11 L937.72,435.69 L937.41,433.05 L938.32,433.50 L937.41,430.24 L937.11,428.46 L936.81,429.26 L936.75,431.66 L936.87,434.39Z M923.62,453.03 L924.11,453.47 L924.65,451.48 L924.41,451.29 L923.56,452.45Z M916.60,455.17 L917.75,454.61 L918.05,454.92 L917.45,455.73 L916.85,455.67Z M923.80,458.07 L923.62,456.84 L923.92,455.61 L924.71,455.61 L924.89,456.54 L924.59,457.46 L925.92,458.98 L925.01,458.67Z M924.71,462.57 L925.62,461.62 L926.83,460.96 L927.49,462.39 L926.83,463.40 L925.92,462.86Z M924.71,460.78 L925.92,460.18 L927.01,460.00 L926.22,460.90 L925.31,461.26Z M908.56,463.40 L909.89,463.63 L911.40,465.40 L913.52,466.99 L914.12,467.88 L915.03,468.64 L914.91,470.12 L914.12,470.12 L912.79,469.06 L911.64,467.29 L910.61,465.70 L908.68,464.34Z M914.55,470.71 L915.03,470.18 L916.54,470.48 L917.75,470.71 L919.02,470.77 L920.17,471.25 L920.11,471.84 L918.05,471.55 L916.24,471.31 L915.03,471.01Z M916.85,465.82 L917.21,465.52 L918.05,465.64 L919.26,464.81 L920.78,463.63 L921.68,462.57 L921.99,463.22 L923.02,463.63 L922.29,464.16 L922.17,466.11 L922.89,466.41 L921.99,466.99 L921.38,468.17 L921.08,468.94 L920.17,469.06 L919.26,468.64 L918.36,468.47 L917.57,468.41 L916.85,466.99Z M923.20,469.94 L923.80,469.94 L923.80,468.47 L924.41,469.35 L925.31,469.47 L924.71,468.47 L924.11,467.58 L925.50,467.23 L926.52,465.82 L926.22,466.41 L924.11,465.99 L923.50,466.29 L923.32,467.88 L922.77,468.47Z M930.15,467.47 L931.37,467.11 L932.57,468.64 L934.09,467.58 L936.20,468.23 L938.32,468.94 L939.11,469.94 L940.14,470.36 L940.44,471.49 L941.65,472.80 L939.84,472.62 L939.23,471.43 L938.02,471.25 L937.60,472.02 L936.20,472.08 L935.00,471.55 L934.27,469.83 L932.57,469.35 L931.37,469.06 L930.76,468.35Z M920.48,471.73 L922.89,471.90 L924.11,471.90 L926.52,471.61 L927.74,471.67 L926.52,472.62 L925.62,472.80 L923.50,472.62 L921.68,472.02Z M955.38,488.30 L956.47,489.82 L957.08,490.19 L958.89,490.63 L958.53,491.76 L957.92,492.14 L956.96,493.69 L956.53,493.46 L956.77,492.07 L956.05,491.84 L956.53,490.56 L955.56,488.95Z M955.38,492.83 L956.35,493.77 L955.56,495.29 L954.48,496.11 L954.17,497.20 L953.14,497.80 L951.63,497.29 L951.81,496.70 L952.78,495.62 L954.05,494.73 L954.96,493.61Z M799.48,453.47 L800.68,452.84 L801.89,452.71 L804.01,453.54 L805.16,453.98 L806.07,454.55 L804.01,454.80 L803.71,454.23 L802.20,453.41 L800.99,453.28Z M805.83,455.67 L806.86,454.73 L808.55,454.86 L809.52,455.55 L807.70,456.17Z M815.02,434.74 L817.02,433.05 L817.32,431.10 L818.53,433.23 L819.08,434.82 L818.41,435.52 L817.14,435.26Z" fill="#b7ccec" stroke="none" stroke-width="1" stroke="#fff" stroke-width="0.35" stroke-linejoin="round"/>
<path d="M867.84,439.79 L868.44,440.02 L870.87,439.39 L872.68,439.63 L873.89,440.18 L876.01,439.79 L876.01,438.99 L874.50,437.62 L873.59,437.20 L874.19,435.52 L872.07,436.70 L871.17,437.37 L870.56,436.54 L869.96,435.69 L869.05,436.54 L868.75,437.37 L867.84,438.19ZM879.33,436.95 L880.54,435.69 L882.36,435.69 L882.96,436.54 L881.75,437.37 L882.06,438.59 L882.96,439.39 L882.96,441.33 L883.57,442.84 L881.75,443.43 L880.54,442.84 L880.85,440.95 L879.94,439.39 L879.64,438.59Z" fill="#fff" stroke="none" stroke-width="1" />
<path d="M776.49,433.50 L793.42,433.50 L797.05,434.39 L800.08,435.69 L800.99,436.95 L803.11,438.19 L804.92,437.37 L807.94,436.95 L809.15,435.00 L810.06,435.26 L810.37,436.95" fill="none" stroke="#fff" stroke-width="0.6" stroke-linejoin="round" opacity="0.85"/>
<path d="M765.60,410.78 L765.60,421.96 L768.01,423.41" fill="none" stroke="#fff" stroke-width="0.6" stroke-linejoin="round" opacity="0.85"/>
<path d="M780.12,446.44 L783.75,447.27 L785.56,447.27 L786.47,446.93 L788.59,448.84 L790.70,449.84 L792.09,450.90" fill="none" stroke="#fff" stroke-width="0.6" stroke-linejoin="round" opacity="0.85"/>
<path d="M867.84,434.39 L872.07,431.66 L875.10,435.26 L879.33,436.95 L881.15,431.66 L887.20,431.66 L893.25,427.74 L899.30,431.66 L903.53,433.50 L905.35,432.59 L910.19,430.72 L916.24,432.59 L921.08,432.59 L923.50,429.75 L927.74,432.59 L930.15,436.95 L930.15,438.99" fill="none" stroke="#fff" stroke-width="0.6" stroke-linejoin="round" opacity="0.85"/>
<path d="M903.53,433.50 L908.98,437.78 L914.42,439.39 L918.66,438.59 L921.68,436.11 L923.50,435.26 L921.08,432.59" fill="none" stroke="#fff" stroke-width="0.6" stroke-linejoin="round" opacity="0.85"/>
<path d="M882.96,439.39 L884.78,440.18 L887.20,439.39 L892.04,440.57 L893.86,439.39 L899.30,438.99 L900.51,436.95 L903.53,433.50" fill="none" stroke="#fff" stroke-width="0.6" stroke-linejoin="round" opacity="0.85"/>
<path d="M896.27,443.21 L899.30,444.67 L902.32,449.17" fill="none" stroke="#fff" stroke-width="0.6" stroke-linejoin="round" opacity="0.85"/>
<path d="M887.80,451.48 L888.41,448.16 L887.80,444.67 L887.20,443.21 L890.83,442.84 L893.25,442.47 L896.27,443.21" fill="none" stroke="#fff" stroke-width="0.6" stroke-linejoin="round" opacity="0.85"/>
<path d="M877.52,443.21 L879.94,448.16" fill="none" stroke="#fff" stroke-width="0.6" stroke-linejoin="round" opacity="0.85"/>
<path d="M872.68,443.21 L875.10,443.21 L877.52,443.21 L879.94,442.09" fill="none" stroke="#fff" stroke-width="0.6" stroke-linejoin="round" opacity="0.85"/>
<path d="M872.07,446.09 L874.50,446.79 L879.33,448.50" fill="none" stroke="#fff" stroke-width="0.6" stroke-linejoin="round" opacity="0.85"/>
<path d="M872.68,448.16 L874.50,446.79" fill="none" stroke="#fff" stroke-width="0.6" stroke-linejoin="round" opacity="0.85"/>
<path d="M884.17,453.41 L882.36,455.30 L877.52,456.54" fill="none" stroke="#fff" stroke-width="0.6" stroke-linejoin="round" opacity="0.85"/>
<path d="M847.88,443.94 L846.06,439.79 L849.69,438.43" fill="none" stroke="#fff" stroke-width="0.6" stroke-linejoin="round" opacity="0.85"/>
<path d="M852.72,438.99 L849.69,438.43" fill="none" stroke="#fff" stroke-width="0.6" stroke-linejoin="round" opacity="0.85"/>
<path d="M852.41,431.66 L854.53,433.05 L855.74,434.82 L856.95,435.00" fill="none" stroke="#fff" stroke-width="0.6" stroke-linejoin="round" opacity="0.85"/>
<path d="M854.53,429.26 L854.83,433.05" fill="none" stroke="#fff" stroke-width="0.6" stroke-linejoin="round" opacity="0.85"/>
<path d="M855.13,437.94 L856.95,435.00 L858.76,434.82 L861.18,434.39 L864.21,433.94 L865.42,434.56 L867.84,434.39" fill="none" stroke="#fff" stroke-width="0.6" stroke-linejoin="round" opacity="0.85"/>
<path d="M859.67,428.76 L859.67,431.66 L861.79,432.59 L864.51,433.05 L865.42,431.66 L865.12,428.96 L864.21,427.74" fill="none" stroke="#fff" stroke-width="0.6" stroke-linejoin="round" opacity="0.85"/>
<path d="M865.42,431.66 L870.26,430.72 L872.07,431.66" fill="none" stroke="#fff" stroke-width="0.6" stroke-linejoin="round" opacity="0.85"/>
<path d="M864.21,433.94 L863.00,436.11 L864.51,437.78 L867.84,437.78" fill="none" stroke="#fff" stroke-width="0.6" stroke-linejoin="round" opacity="0.85"/>
<path d="M859.37,435.69 L861.18,436.95 L862.39,437.37 L863.00,438.99 L864.51,440.02 L866.63,439.63" fill="none" stroke="#fff" stroke-width="0.6" stroke-linejoin="round" opacity="0.85"/>
<path d="M858.16,415.76 L861.79,411.79" fill="none" stroke="#fff" stroke-width="0.6" stroke-linejoin="round" opacity="0.85"/>
<path d="M864.21,416.00 L868.44,411.07 L869.05,419.21 L867.84,421.77" fill="none" stroke="#fff" stroke-width="0.6" stroke-linejoin="round" opacity="0.85"/>
<path d="M867.84,425.64 L867.84,422.25" fill="none" stroke="#fff" stroke-width="0.6" stroke-linejoin="round" opacity="0.85"/>
<path d="M865.12,428.76 L867.84,426.70 L867.84,425.64" fill="none" stroke="#fff" stroke-width="0.6" stroke-linejoin="round" opacity="0.85"/>
<path d="M845.64,449.71 L849.08,448.16 L849.99,446.65 L852.11,444.67" fill="none" stroke="#fff" stroke-width="0.6" stroke-linejoin="round" opacity="0.85"/>
<path d="M840.62,454.04 L843.03,452.77 L845.64,449.71 L847.88,451.48 L850.90,454.04 L853.32,454.99 L858.16,452.45 L859.98,452.77 L866.02,454.67 L866.02,446.93" fill="none" stroke="#fff" stroke-width="0.6" stroke-linejoin="round" opacity="0.85"/>
<path d="M856.35,448.16 L858.16,452.45" fill="none" stroke="#fff" stroke-width="0.6" stroke-linejoin="round" opacity="0.85"/>
<path d="M866.02,453.41 L873.22,453.41" fill="none" stroke="#fff" stroke-width="0.6" stroke-linejoin="round" opacity="0.85"/>
<path d="M843.64,459.28 L847.88,457.76 L850.90,457.76 L853.32,458.67 L859.07,458.98 L860.58,460.78 L864.21,461.08 L865.12,460.48 L865.42,458.98 L864.21,457.46 L866.02,454.67" fill="none" stroke="#fff" stroke-width="0.6" stroke-linejoin="round" opacity="0.85"/>
<path d="M848.48,463.63 L849.08,460.18 L851.50,460.18" fill="none" stroke="#fff" stroke-width="0.6" stroke-linejoin="round" opacity="0.85"/>
<path d="M852.72,462.92 L853.02,459.88" fill="none" stroke="#fff" stroke-width="0.6" stroke-linejoin="round" opacity="0.85"/>
<path d="M856.22,464.34 L859.37,460.78 L859.07,458.98" fill="none" stroke="#fff" stroke-width="0.6" stroke-linejoin="round" opacity="0.85"/>
<path d="M860.58,460.78 L860.58,464.64 L861.79,464.64 L867.54,463.75 L869.65,464.46 L871.47,464.05 L872.07,463.75" fill="none" stroke="#fff" stroke-width="0.6" stroke-linejoin="round" opacity="0.85"/>
<path d="M865.42,458.98 L871.47,461.08 L872.68,459.28 L873.28,457.76 L874.19,455.92" fill="none" stroke="#fff" stroke-width="0.6" stroke-linejoin="round" opacity="0.85"/>
<path d="M871.47,461.08 L872.07,463.75" fill="none" stroke="#fff" stroke-width="0.6" stroke-linejoin="round" opacity="0.85"/>
<path d="M872.07,463.75 L876.31,464.34 L878.12,463.75 L879.94,461.97 L877.52,461.08 L876.91,459.88" fill="none" stroke="#fff" stroke-width="0.6" stroke-linejoin="round" opacity="0.85"/>
<path d="M872.07,463.75 L875.70,467.64" fill="none" stroke="#fff" stroke-width="0.6" stroke-linejoin="round" opacity="0.85"/>
<path d="M871.47,464.05 L869.05,467.29 L871.47,467.29 L873.59,468.76 L874.50,469.47" fill="none" stroke="#fff" stroke-width="0.6" stroke-linejoin="round" opacity="0.85"/>
<path d="M869.05,467.29 L868.44,469.35 L869.35,471.61 L871.17,472.32 L871.95,473.52 L872.07,476.25 L870.26,476.86 L868.44,480.12 L869.96,480.18" fill="none" stroke="#fff" stroke-width="0.6" stroke-linejoin="round" opacity="0.85"/>
<path d="M858.16,469.65 L860.58,469.94 L861.79,471.43 L864.21,473.22 L865.42,473.22 L866.21,477.36 L863.00,477.48 L863.00,479.99 L863.00,483.10 L865.72,482.24 L868.44,480.12" fill="none" stroke="#fff" stroke-width="0.6" stroke-linejoin="round" opacity="0.85"/>
<path d="M859.07,473.22 L859.67,477.11 L863.00,477.48" fill="none" stroke="#fff" stroke-width="0.6" stroke-linejoin="round" opacity="0.85"/>
<path d="M863.00,483.10 L863.00,484.23 L861.18,484.23" fill="none" stroke="#fff" stroke-width="0.6" stroke-linejoin="round" opacity="0.85"/>
<path d="M856.65,465.52 L857.55,465.52 L858.76,465.52 L860.58,465.52" fill="none" stroke="#fff" stroke-width="0.6" stroke-linejoin="round" opacity="0.85"/>
<path d="M861.79,464.64 L861.79,469.06 L858.16,469.65" fill="none" stroke="#fff" stroke-width="0.6" stroke-linejoin="round" opacity="0.85"/>
<path d="M808.55,459.58 L807.04,462.57 L808.55,463.16 L810.37,462.86 L810.37,465.82 L808.85,466.99 L808.55,469.06 L806.74,470.83 L807.04,472.62 L808.85,473.22 L811.57,472.62 L814.60,475.03 L815.81,476.25 L816.11,478.73 L817.93,482.24 L818.23,483.56 L816.11,485.38 L818.53,487.81" fill="none" stroke="#fff" stroke-width="0.6" stroke-linejoin="round" opacity="0.85"/>
<path d="M814.60,461.67 L814.00,463.75 L815.81,464.34 L816.41,465.52 L817.62,465.23 L819.44,465.52 L820.04,464.34" fill="none" stroke="#fff" stroke-width="0.6" stroke-linejoin="round" opacity="0.85"/>
<path d="M805.52,466.11 L804.01,465.52" fill="none" stroke="#fff" stroke-width="0.6" stroke-linejoin="round" opacity="0.85"/>
<path d="M802.50,468.76 L805.52,467.29 L806.74,470.83" fill="none" stroke="#fff" stroke-width="0.6" stroke-linejoin="round" opacity="0.85"/>
<path d="M809.15,473.22 L809.15,477.48 L808.25,477.79" fill="none" stroke="#fff" stroke-width="0.6" stroke-linejoin="round" opacity="0.85"/>
<path d="M809.15,477.48 L809.76,480.31 L811.57,479.99 L813.39,479.99 L815.81,478.73" fill="none" stroke="#fff" stroke-width="0.6" stroke-linejoin="round" opacity="0.85"/>
<path d="M809.76,480.31 L809.15,485.24 L808.55,489.46 L807.64,494.01 L807.34,499.90 L806.43,501.74 L809.15,502.68" fill="none" stroke="#fff" stroke-width="0.6" stroke-linejoin="round" opacity="0.85"/>
<path d="M813.39,479.99 L813.39,481.92 L815.81,483.56" fill="none" stroke="#fff" stroke-width="0.6" stroke-linejoin="round" opacity="0.85"/>
<path d="M893.55,451.16 L888.41,451.48" fill="none" stroke="#fff" stroke-width="0.6" stroke-linejoin="round" opacity="0.85"/>
<path d="M855.13,436.20 L857.25,435.69 L859.19,435.69" fill="none" stroke="#fff" stroke-width="0.6" stroke-linejoin="round" opacity="0.85"/>
<path d="M858.76,433.68 L861.18,433.85 L864.51,434.12" fill="none" stroke="#fff" stroke-width="0.6" stroke-linejoin="round" opacity="0.85"/>
<path d="M864.51,434.39 L866.93,434.12 L867.96,436.54" fill="none" stroke="#fff" stroke-width="0.6" stroke-linejoin="round" opacity="0.85"/>
<path d="M865.12,431.19 L870.26,430.72" fill="none" stroke="#fff" stroke-width="0.6" stroke-linejoin="round" opacity="0.85"/>
<path d="M870.26,430.72 L872.07,431.66 L875.10,433.05 L873.89,435.26" fill="none" stroke="#fff" stroke-width="0.6" stroke-linejoin="round" opacity="0.85"/>
<path d="M860.88,435.69 L862.39,436.11 L864.51,437.37" fill="none" stroke="#fff" stroke-width="0.6" stroke-linejoin="round" opacity="0.85"/>
<path d="M862.39,437.37 L863.30,439.39" fill="none" stroke="#fff" stroke-width="0.6" stroke-linejoin="round" opacity="0.85"/>
<path d="M852.41,431.66 L853.32,432.68 L855.74,433.50" fill="none" stroke="#fff" stroke-width="0.6" stroke-linejoin="round" opacity="0.85"/>
<path d="M856.65,427.95 L856.65,429.75" fill="none" stroke="#fff" stroke-width="0.6" stroke-linejoin="round" opacity="0.85"/>
<path d="M858.16,432.41 L859.98,431.66" fill="none" stroke="#fff" stroke-width="0.6" stroke-linejoin="round" opacity="0.85"/>
<path d="M863.61,426.70 L867.84,426.49" fill="none" stroke="#fff" stroke-width="0.6" stroke-linejoin="round" opacity="0.85"/>
<path d="M864.21,425.09 L867.54,424.87" fill="none" stroke="#fff" stroke-width="0.6" stroke-linejoin="round" opacity="0.85"/>
<path d="M872.68,443.21 L876.31,443.21" fill="none" stroke="#fff" stroke-width="0.6" stroke-linejoin="round" opacity="0.85"/>
<path d="M877.52,441.33 L879.33,439.79" fill="none" stroke="#fff" stroke-width="0.6" stroke-linejoin="round" opacity="0.85"/>
<path d="M849.69,444.67 L849.99,446.79" fill="none" stroke="#fff" stroke-width="0.6" stroke-linejoin="round" opacity="0.85"/>
<path d="M892.22,452.39 L893.55,451.16 L893.86,449.64 L895.67,447.82 L895.97,446.44 L896.27,445.03 L897.79,444.31 L899.00,446.44 L898.69,447.48 L899.90,448.02 L901.72,449.51 L904.14,449.84 L904.20,450.50 L905.23,450.63 L906.56,449.84 L908.38,448.64 L909.77,449.51 L909.10,450.17 L908.50,450.83 L907.83,452.26 L907.35,453.41 L906.74,452.77 L906.50,451.81 L905.05,450.90 L904.56,451.94 L904.26,453.66 L903.53,453.73 L903.41,454.36 L902.32,454.99 L901.72,455.79 L900.69,456.78 L899.90,457.33 L899.42,458.67 L899.18,460.18 L898.88,460.60 L898.21,461.44 L897.79,461.91 L897.18,461.38 L896.58,459.88 L895.97,458.37 L895.37,456.84 L894.94,455.30 L894.94,454.04 L893.55,454.17 L892.64,453.22Z" fill="#223f8e" stroke="none" stroke-width="1" />
<circle cx="850.2" cy="429" r="2.45" fill="#d0283d"/>
<circle cx="869.7" cy="432.4" r="2.45" fill="#d0283d"/>
<circle cx="865.3" cy="476.9" r="2.45" fill="#d0283d"/>
<circle cx="898" cy="449.5" r="2.45" fill="#d0283d"/>
<circle cx="894.9" cy="455.7" r="2.45" fill="#d0283d"/>
<circle cx="899.6" cy="460.1" r="2.45" fill="#d0283d"/>
<circle cx="912.2" cy="459" r="2.45" fill="#d0283d"/>
<rect x="697.8" y="370.9" width="18.6" height="18.5" rx="2" fill="#f3f3f3" stroke="#8f8f8f" stroke-width="0.9"/>
<rect x="697.8" y="396.9" width="18.6" height="18.5" rx="2" fill="#f3f3f3" stroke="#8f8f8f" stroke-width="0.9"/>
<rect x="697.8" y="422.7" width="18.6" height="18.5" rx="2" fill="#f3f3f3" stroke="#8f8f8f" stroke-width="0.9"/>
<circle cx="706.2" cy="379.0" r="4.6" fill="none" stroke="#555" stroke-width="1"/>
<line x1="709.5" y1="382.3" x2="712.7" y2="385.6" stroke="#555" stroke-width="1.4" />
<line x1="703.8" y1="379.0" x2="708.6" y2="379.0" stroke="#555" stroke-width="1" />
<line x1="706.2" y1="376.6" x2="706.2" y2="381.4" stroke="#555" stroke-width="1" />
<circle cx="706.2" cy="405.0" r="4.6" fill="none" stroke="#555" stroke-width="1"/>
<line x1="709.5" y1="408.3" x2="712.7" y2="411.6" stroke="#555" stroke-width="1.4" />
<line x1="703.8" y1="405.0" x2="708.6" y2="405.0" stroke="#555" stroke-width="1" />
<circle cx="707.1" cy="428.40000000000003" r="1.1" fill="#666"/>
<circle cx="707.1" cy="434.8" r="1.1" fill="#666"/>
<circle cx="703.9" cy="431.6" r="1.1" fill="#666"/>
<circle cx="710.3000000000001" cy="431.6" r="1.1" fill="#666"/>
<circle cx="707.1" cy="431.6" r="0.8" fill="#666"/>
<text x="743.4" y="348.8" font-size="8.75" fill="#666" font-weight="400" text-anchor="start" >16 <tspan font-weight="700" fill="#333">People</tspan></text>
<text x="906.5" y="348.8" font-size="8.75" fill="#666" font-weight="400" text-anchor="start" >7 <tspan font-weight="700" fill="#333">Cities</tspan></text>
</svg>
<div class="a" style="left:0;top:0;width:1024px;height:566px;border-style:solid;border-color:#111;border-width:1px 1.2px 1.4px 1.6px"></div>
</body></html>
